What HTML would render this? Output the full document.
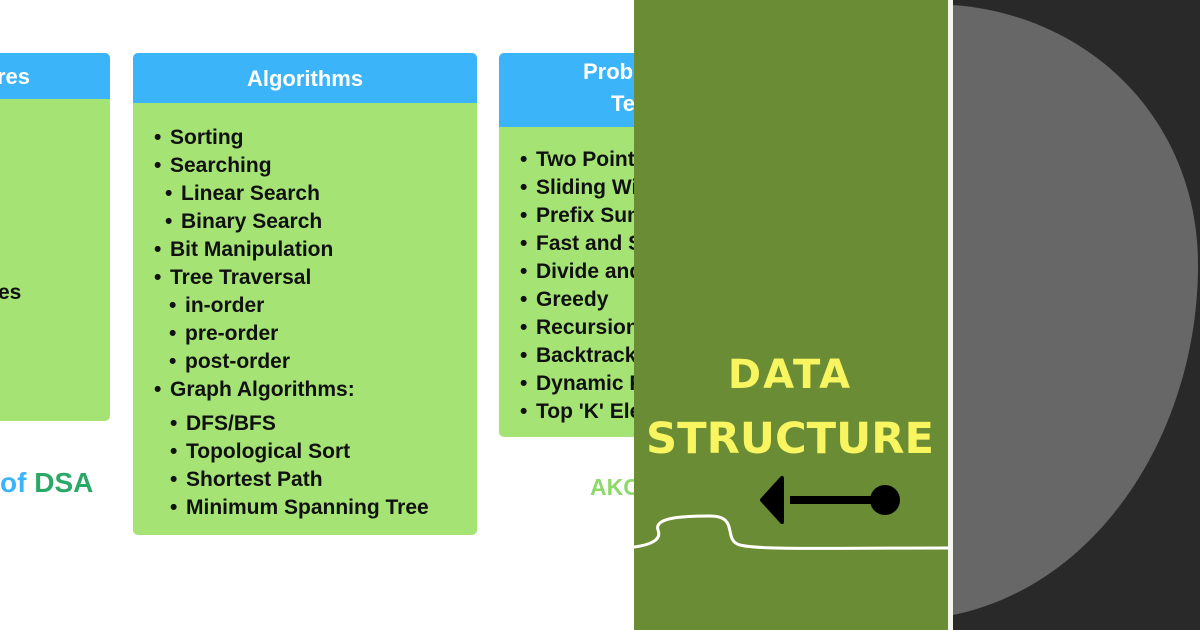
<!DOCTYPE html>
<html><head><meta charset="utf-8"><style>
body{margin:0;width:1200px;height:630px;overflow:hidden;background:#fff;position:relative;font-family:"Liberation Sans",sans-serif;}
.box{position:absolute;background:#a5e374;border-radius:5px;overflow:hidden}
.hd{position:absolute;left:0;right:0;top:0;background:#3bb4f9;color:#fff;font-weight:bold;font-size:22px;text-align:center}
.t{position:absolute;font-weight:bold;font-size:21px;color:#111;white-space:nowrap;line-height:24px}
.b::before{content:"•";position:absolute;left:-16px}
</style></head><body>
<div class="box" style="left:-20px;top:53px;width:130px;height:368px"><div class="hd" style="height:46px"></div></div>
<div class="t" style="left:-3px;top:65px;color:#fff;font-size:22px">res</div>
<div class="t" style="left:-2px;top:281px">es</div>
<div style="position:absolute;left:0;top:467px;font-weight:bold;font-size:28px;color:#3bb4f9">of <span style="color:#2aa866">DSA</span></div>

<div class="box" style="left:133px;top:53px;width:344px;height:482px"><div class="hd" style="height:50px;line-height:52px">Algorithms</div></div>
<div class="t b" style="left:170px;top:126px">Sorting</div>
<div class="t b" style="left:170px;top:154px">Searching</div>
<div class="t b" style="left:181px;top:182px">Linear Search</div>
<div class="t b" style="left:181px;top:210px">Binary Search</div>
<div class="t b" style="left:170px;top:238px">Bit Manipulation</div>
<div class="t b" style="left:170px;top:266px">Tree Traversal</div>
<div class="t b" style="left:185px;top:294px">in-order</div>
<div class="t b" style="left:185px;top:322px">pre-order</div>
<div class="t b" style="left:185px;top:350px">post-order</div>
<div class="t b" style="left:170px;top:378px">Graph Algorithms:</div>
<div class="t b" style="left:186px;top:412px">DFS/BFS</div>
<div class="t b" style="left:186px;top:440px">Topological Sort</div>
<div class="t b" style="left:186px;top:468px">Shortest Path</div>
<div class="t b" style="left:186px;top:496px">Minimum Spanning Tree</div>

<div class="box" style="left:499px;top:53px;width:160px;height:384px"><div class="hd" style="height:74px"></div></div>
<div class="t" style="left:583px;top:60px;color:#fff;font-size:22px">Prob</div>
<div class="t" style="left:611px;top:92px;color:#fff;font-size:22px">Te</div>
<div class="t b" style="left:536px;top:148px">Two Points</div>
<div class="t b" style="left:536px;top:176px">Sliding Window</div>
<div class="t b" style="left:536px;top:204px">Prefix Sum</div>
<div class="t b" style="left:536px;top:232px">Fast and Slow</div>
<div class="t b" style="left:536px;top:260px">Divide and</div>
<div class="t b" style="left:536px;top:288px">Greedy</div>
<div class="t b" style="left:536px;top:316px">Recursion</div>
<div class="t b" style="left:536px;top:344px">Backtracking</div>
<div class="t b" style="left:536px;top:372px">Dynamic P</div>
<div class="t b" style="left:536px;top:400px">Top 'K' Elements</div>
<div style="position:absolute;left:590px;top:474px;font-weight:bold;font-size:23px;color:#8fd86a">AKC</div>

<svg style="position:absolute;left:0;top:0" width="1200" height="630">
<rect x="634" y="0" width="314" height="630" fill="#6a8c34"/>
<rect x="948" y="0" width="5" height="630" fill="#f4f4f0"/>
<rect x="953" y="0" width="247" height="630" fill="#292929"/>
<path d="M953,5 C1090,15 1198,120 1198,265 C1198,430 1100,585 953,615 Z" fill="#676767"/>
<text x="790" y="388" text-anchor="middle" font-family="DejaVu Sans" font-weight="bold" font-size="40" fill="#f8f560" letter-spacing="2">DATA</text>
<text x="790" y="453" text-anchor="middle" font-family="DejaVu Sans" font-weight="bold" font-size="43" fill="#f8f560" textLength="288" lengthAdjust="spacingAndGlyphs">STRUCTURE</text>
<line x1="790" y1="500" x2="880" y2="500" stroke="#000" stroke-width="8"/>
<circle cx="885" cy="500" r="15" fill="#000"/>
<path d="M762,500 L782,478 L782,522 Z" fill="#000" stroke="#000" stroke-width="4" stroke-linejoin="round"/>
<path d="M634,547 C650,545 662,540 658,530 C654,518 680,516 710,516 C740,516 722,540 740,545 C760,550 820,548 948,548" fill="none" stroke="#fff" stroke-width="3"/>
</svg>
</body></html>
